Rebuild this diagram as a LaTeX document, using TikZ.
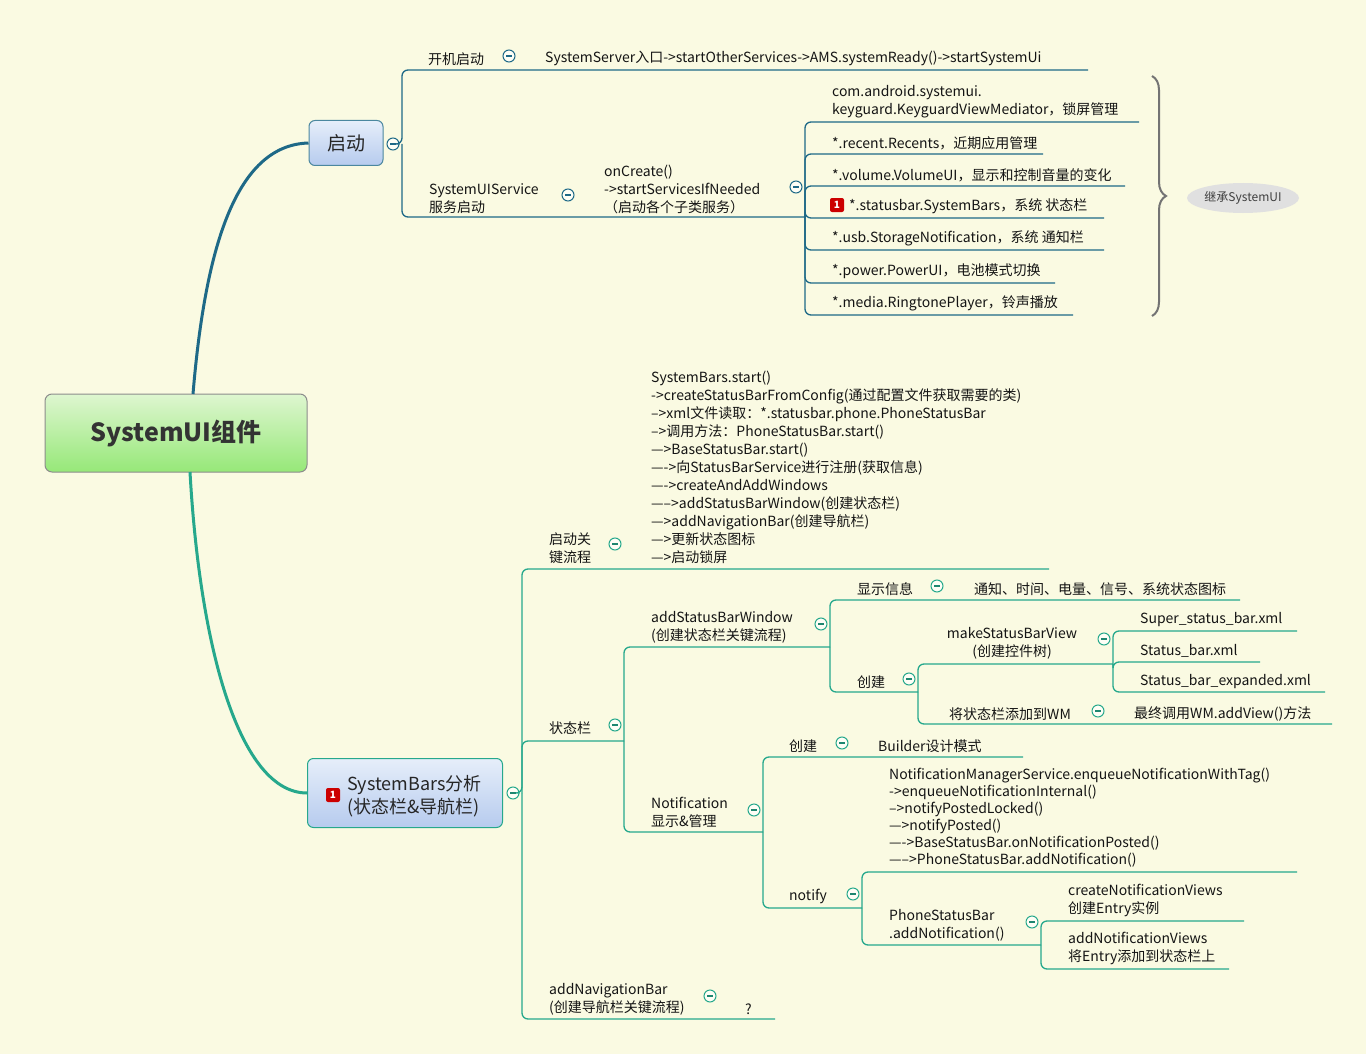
\documentclass[tikz,border=0pt]{standalone}
\usepackage{fontspec}
\setmainfont{Noto Sans CJK SC}[Ligatures=ResetAll]
\usetikzlibrary{decorations.pathreplacing,shadings,shapes.geometric}
\definecolor{bg}{RGB}{250,250,226}
\definecolor{ca}{RGB}{30,105,135}
\definecolor{cb}{RGB}{38,168,140}
\definecolor{tx}{RGB}{20,20,20}
\definecolor{bt}{RGB}{230,238,250}
\definecolor{bb}{RGB}{182,203,238}
\definecolor{gt}{RGB}{222,246,208}
\definecolor{gb}{RGB}{150,232,120}
\begin{document}
\begin{tikzpicture}[x=1pt,y=-1pt,
  t/.style={anchor=south west,align=left,inner sep=0pt,font=\fontsize{14}{18}\selectfont,text=tx},
  la/.style={draw=ca,line width=1.3pt,rounded corners=6pt},
  lb/.style={draw=cb,line width=1.3pt,rounded corners=6pt},
  mn/.style={circle,minimum size=12pt,inner sep=0pt,line width=1pt,fill=white!70!bg,
    path picture={\draw[line width=1.2pt,#1] ([xshift=-3pt]path picture bounding box.center)--([xshift=3pt]path picture bounding box.center);}},
  ma/.style={mn=ca,draw=ca},
  mb/.style={mn=cb!80!black,draw=cb},
  badge/.style={fill=red!80!black,rounded corners=2pt,minimum size=14pt,inner sep=0pt,text=white,font=\bfseries\fontsize{10}{10}\selectfont}]
\fill[bg] (0,0) rectangle (1366,1054);
\useasboundingbox (0,0) rectangle (1366,1054);
% root
\node[draw=black!45,line width=1pt,rounded corners=7pt,minimum width=262pt,minimum height=78pt,top color=gt,bottom color=gb,font=\bfseries\fontsize{25}{25}\selectfont,text=black!80] (root) at (176,433) {SystemUI组件};
\node[draw=ca!80,line width=1pt,rounded corners=6pt,minimum width=74pt,minimum height=45pt,top color=bt,bottom color=bb,font=\fontsize{19}{19}\selectfont,text=black!85] (qd) at (346,143) {启动};
\node[draw=cb,line width=1pt,rounded corners=6pt,minimum width=195pt,minimum height=69pt,top color=bt,bottom color=bb] (sb) at (405,793) {};
\node[anchor=west,align=left,inner sep=0pt,font=\fontsize{18}{23}\selectfont,text=black!85] (sbt) at (347,796) {SystemBars分析\\(状态栏\&导航栏)};
\node[badge] (bd1) at (333,795) {1};
\draw[ca,line width=3pt] (193,394) .. controls (205,250) and (235,145) .. (qd.west);
\draw[cb,line width=3pt] (190,472) .. controls (200,650) and (240,793) .. (sb.west);
% ---- top part
\node[ma] (m1) at (393,144) {};
\draw[la] (m1.east) -- (402,144) |- (1088,70);
\draw[la] (402,144) |- (805,217);
\node[t] (kj) at (428,66) {开机启动};
\node[ma] (m2) at (509,56) {};
\node[t] (ss) at (545,66) {SystemServer入口->startOtherServices->AMS.systemReady()->startSystemUi};
\node[t] (su) at (429,214) {SystemUIService\\服务启动};
\node[ma] (m3) at (568,195) {};
\node[t] (oc) at (604,214) {onCreate()\\->startServicesIfNeeded\\（启动各个子类服务）};
\node[ma] (m4) at (796,187) {};
\draw[la] (805,217) |- (1139,122);
\foreach \y/\e in {154/1043,186/1125,218/1104,250/1104,283/1055,315/1073}{\draw[la] (805,217) |- (\e,\y);}
\node[t] at (832,118) {com.android.systemui.\\keyguard.KeyguardViewMediator，锁屏管理};
\node[t] at (832,150) {*.recent.Recents，近期应用管理};
\node[t] at (832,182) {*.volume.VolumeUI，显示和控制音量的变化};
\node[badge] (bd2) at (837,205) {1};
\node[t] at (849,214) {*.statusbar.SystemBars，系统 状态栏};
\node[t] at (832,246) {*.usb.StorageNotification，系统 通知栏};
\node[t] at (832,279) {*.power.PowerUI，电池模式切换};
\node[t] at (832,311) {*.media.RingtonePlayer，铃声播放};
\draw[black!55,line width=2pt,decorate,decoration={brace,amplitude=14pt}] (1152,76) -- (1152,316);
\node[ellipse,fill=black!12,minimum width=112pt,minimum height=30pt,inner sep=0pt,font=\fontsize{12}{12}\selectfont,text=black!75] (ex) at (1243,198) {继承SystemUI};
% ---- bottom part
\node[mb] (n1) at (513,793) {};
\draw[lb] (n1.east) -- (522,793) |- (1049,569);
\draw[lb] (522,793) |- (624,741);
\draw[lb] (522,793) |- (775,1019);
\node[t] at (549,564) {启动关\\键流程};
\node[mb] at (615,544) {};
\node[t] at (651,564) {SystemBars.start()\\->createStatusBarFromConfig(通过配置文件获取需要的类)\\-->xml文件读取：*.statusbar.phone.PhoneStatusBar\\-->调用方法：PhoneStatusBar.start()\\--->BaseStatusBar.start()\\---->向StatusBarService进行注册(获取信息)\\---->createAndAddWindows\\----->addStatusBarWindow(创建状态栏)\\--->addNavigationBar(创建导航栏)\\--->更新状态图标\\--->启动锁屏};
\node[t] at (549,735) {状态栏};
\node[mb] at (615,725) {};
\draw[lb] (624,741) |- (830,647);
\draw[lb] (624,741) |- (763,832);
\node[t] at (651,643) {addStatusBarWindow\\(创建状态栏关键流程)};
\node[mb] at (821,624) {};
\draw[lb] (830,647) |- (1240,600);
\draw[lb] (830,647) |- (918,692);
\node[t] at (857,596) {显示信息};
\node[mb] at (937,586) {};
\node[t] at (974,596) {通知、时间、电量、信号、系统状态图标};
\node[t] at (857,689) {创建};
\node[mb] at (909,679) {};
\draw[lb] (918,692) |- (1113,664);
\draw[lb] (918,692) |- (1332,724);
\node[t,align=center,anchor=south] at (1012,659) {makeStatusBarView\\(创建控件树)};
\node[mb] at (1104,639) {};
\draw[lb] (1113,664) |- (1297,631);
\draw[lb] (1113,664) |- (1260,662);
\draw[lb] (1113,664) |- (1325,692);
\node[t] at (1140,627) {Super\_status\_bar.xml};
\node[t] at (1140,658) {Status\_bar.xml};
\node[t] at (1140,689) {Status\_bar\_expanded.xml};
\node[t] at (949,721) {将状态栏添加到WM};
\node[mb] at (1098,711) {};
\node[t] at (1134,721) {最终调用WM.addView()方法};
\node[t] at (651,828) {Notification\\显示\&管理};
\node[mb] at (754,810) {};
\draw[lb] (763,832) |- (1023,757);
\draw[lb] (763,832) |- (862,908);
\node[t] at (789,753) {创建};
\node[mb] at (842,743) {};
\node[t] at (878,753) {Builder设计模式};
\node[t] at (789,904) {notify};
\node[mb] at (853,894) {};
\draw[lb] (862,908) |- (1297,872);
\draw[lb] (862,908) |- (1041,945);
\node[t,font=\fontsize{14}{16.9}\selectfont] at (889,867) {NotificationManagerService.enqueueNotificationWithTag()\\->enqueueNotificationInternal()\\-->notifyPostedLocked()\\--->notifyPosted()\\---->BaseStatusBar.onNotificationPosted()\\----->PhoneStatusBar.addNotification()};
\node[t] at (889,941) {PhoneStatusBar\\.addNotification()};
\node[mb] at (1032,922) {};
\draw[lb] (1041,945) |- (1244,921);
\draw[lb] (1041,945) |- (1229,969);
\node[t] at (1068,917) {createNotificationViews\\创建Entry实例};
\node[t] at (1068,965) {addNotificationViews\\将Entry添加到状态栏上};
\node[t] at (549,1015) {addNavigationBar\\(创建导航栏关键流程)};
\node[mb] at (710,996) {};
\node[t] at (745,1015) {?};
\end{tikzpicture}
\end{document}
